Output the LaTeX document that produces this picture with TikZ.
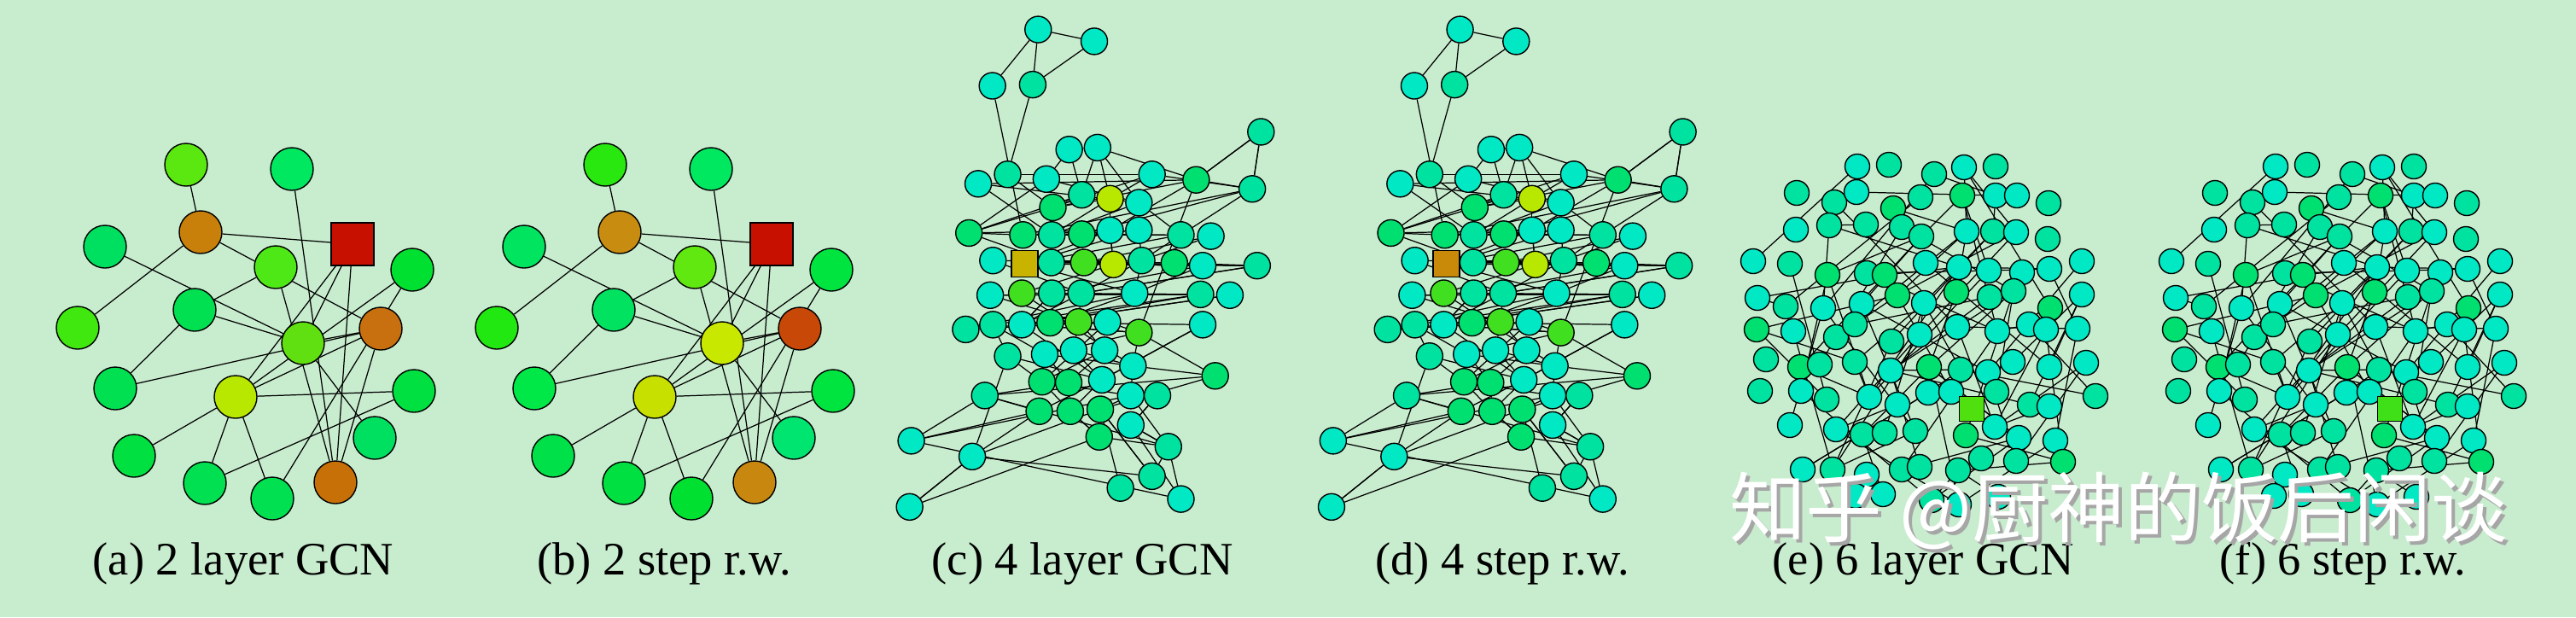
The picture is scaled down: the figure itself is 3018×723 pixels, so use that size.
\documentclass[tikz,border=0pt]{standalone}
\usepackage{fontspec}
\setmainfont{Liberation Serif}
\newfontfamily\cjk{Noto Sans CJK SC}
\definecolor{bgc}{HTML}{C8ECCE}
\definecolor{T}{HTML}{00E8C4}
\definecolor{M}{HTML}{00E2A0}
\definecolor{G}{HTML}{00E070}
\definecolor{L}{HTML}{40E020}
\definecolor{Y}{HTML}{B8E800}
\pgfdeclarelayer{bg}\pgfsetlayers{bg,main}
\begin{document}
\begin{tikzpicture}[x=0.01cm,y=-0.01cm,
  big/.style={circle,draw=black,line width=0.4pt,inner sep=0pt,minimum size=0.5cm},
  bigsq/.style={rectangle,draw=black,line width=0.4pt,inner sep=0pt,minimum size=0.5cm},
  mid/.style={circle,draw=black,line width=0.4pt,inner sep=0pt,minimum size=0.31cm},
  midsq/.style={rectangle,draw=black,line width=0.4pt,inner sep=0pt,minimum width=0.31cm,minimum height=0.31cm},
  sml/.style={circle,draw=black,line width=0.4pt,inner sep=0pt,minimum size=0.29cm},
  smlsq/.style={rectangle,draw=black,line width=0.4pt,inner sep=0pt,minimum size=0.29cm},
  edge/.style={line width=0.35pt,draw=black},
  captxt/.style={font=\fontsize{15.5}{17}\selectfont}]
\begin{pgfonlayer}{bg}
\fill[bgc] (0,0) rectangle (3018,723);
\end{pgfonlayer}
\useasboundingbox (0,0) rectangle (3018,723);

% ---------- panels (a) and (b)
\foreach \pre/\sh in {a/0,b/491}{
 \begin{scope}[xshift=\sh*0.01cm]
 \foreach \k/\x/\y/\ca/\cb in {1/218/193/{rgb,255:red,90;green,232;blue,16}/{rgb,255:red,40;green,232;blue,16},
   2/342/198/{rgb,255:red,0;green,232;blue,96}/{rgb,255:red,0;green,232;blue,96},
   3/235/272/{rgb,255:red,200;green,128;blue,10}/{rgb,255:red,200;green,140;blue,16},
   5/123/289/{rgb,255:red,0;green,224;blue,96}/{rgb,255:red,0;green,228;blue,96},
   6/323/313/{rgb,255:red,78;green,232;blue,23}/{rgb,255:red,96;green,232;blue,16},
   7/483/316/{rgb,255:red,0;green,224;blue,48}/{rgb,255:red,0;green,228;blue,64},
   8/228/363/{rgb,255:red,0;green,224;blue,80}/{rgb,255:red,0;green,226;blue,96},
   9/91/384/{rgb,255:red,64;green,232;blue,16}/{rgb,255:red,32;green,232;blue,16},
   10/446/385/{rgb,255:red,200;green,112;blue,16}/{rgb,255:red,200;green,72;blue,8},
   11/355/402/{rgb,255:red,96;green,224;blue,16}/{rgb,255:red,200;green,232;blue,0},
   12/135/455/{rgb,255:red,0;green,224;blue,80}/{rgb,255:red,0;green,232;blue,72},
   13/276/465/{rgb,255:red,184;green,232;blue,0}/{rgb,255:red,200;green,224;blue,0},
   14/485/458/{rgb,255:red,0;green,224;blue,64}/{rgb,255:red,0;green,228;blue,64},
   15/157/534/{rgb,255:red,0;green,224;blue,64}/{rgb,255:red,0;green,224;blue,72},
   16/439/513/{rgb,255:red,0;green,224;blue,96}/{rgb,255:red,0;green,228;blue,112},
   17/240/566/{rgb,255:red,0;green,224;blue,80}/{rgb,255:red,0;green,224;blue,64},
   18/319/584/{rgb,255:red,0;green,224;blue,80}/{rgb,255:red,0;green,224;blue,48},
   19/393/565/{rgb,255:red,200;green,112;blue,8}/{rgb,255:red,200;green,136;blue,16}}{
   \ifnum\sh=0 \node[big,fill={\ca}] (\pre\k) at (\x,\y) {};
   \else \node[big,fill={\cb}] (\pre\k) at (\x,\y) {};\fi
 }
 \node[bigsq,fill={rgb,255:red,200;green,16;blue,0}] (\pre4) at (413,286) {};
 \begin{pgfonlayer}{bg}
 \foreach \u/\v in {1/3,2/19,3/4,3/9,3/10,5/11,6/8,6/19,8/11,8/12,12/10,4/13,4/11,4/19,7/13,7/18,10/13,10/19,11/10,11/16,13/14,13/15,13/17,13/18,14/17}
   \draw[edge] (\pre\u) -- (\pre\v);
 \end{pgfonlayer}
 \end{scope}}
\node[captxt] (capa) at (285,660) {(a) 2 layer GCN};
\node[captxt] (capb) at (778,660) {(b) 2 step r.w.};

% ---------- panels (c) and (d)
\def\cnodes{1/338/75/T,2/441/105/T,3/254/218/T,4/328/215/M,5/747/335/M,6/395/380/T,7/447/375/T,8/282/443/M,9/228/467/T,10/353/455/T,11/547/443/T,12/628/457/G,13/731/480/M,14/418/495/M,15/365/527/G,16/470/505/Y,17/523/515/T,18/211/592/G,19/310/597/G,20/363/597/M,21/418/595/G,22/470/585/T,23/523/585/T,24/600/597/M,25/655/600/T,26/255/662/T,28/362/667/M,29/422/667/L,30/476/672/Y,31/528/662/M,32/588/668/G,33/640/675/T,34/740/675/M,35/250/750/T,36/308/745/L,37/363/745/M,38/417/745/M,39/515/745/T,40/636/748/M,41/690/750/T,42/205/837/M,43/255/825/M,44/308/825/T,45/360/820/G,46/412/818/L,47/465/818/T,48/523/845/L,49/640/825/T,50/282/905/M,51/350/900/T,52/403/890/T,53/460/890/T,54/512/930/T,55/345/970/G,56/394/972/G,57/455/965/T,58/663/955/G,59/240/1005/M,60/508/1005/T,61/557/1005/M,62/340/1045/G,63/397/1045/G,64/452/1040/G,65/508/1080/T,66/450/1110/G,67/577/1135/M,68/105/1120/T,69/217/1160/T,70/547/1210/M,71/489/1240/M,72/600/1268/T,73/102/1288/T}
\foreach \pre/\sh/\sqc in {c/10/{rgb,255:red,200;green,180;blue,0},d/14.94/{rgb,255:red,200;green,138;blue,8}}{
 \begin{scope}[shift={(\sh cm,0cm)},x=0.006378cm,y=-0.00461cm]
 \foreach \k/\x/\y/\c in \cnodes { \node[mid,fill=\c] (\pre\k) at (\x,\y) {}; }
 \node[midsq,fill={\sqc}] (\pre27) at (313,670) {};
 \begin{pgfonlayer}{bg}
 \foreach \u/\v in {1/2,1/3,1/4,2/4,3/19,4/8,5/12,5/13,13/24,12/22,11/16,16/7,6/14,7/17,9/20,18/28,30/22,30/34,26/38,27/28,28/31,29/21,35/46,39/27,48/58,48/12,42/47,68/59,73/69,69/50,67/60,70/64,72/65,71/64,36/54,44/57}
   \draw[edge] (\pre\u) -- (\pre\v);
 \pgfmathsetseed{7}
 \foreach \i in {1,...,73}{
   \foreach \rep in {1,2}{
    \pgfmathrandominteger{\r}{1}{8}
    \pgfmathtruncatemacro\j{\i+\r}
    \ifnum\j<74 \ifnum\i>4 \draw[edge] (\pre\i) -- (\pre\j);\fi\fi
 }}
 \end{pgfonlayer}
 \end{scope}}
\node[captxt] (capc) at (1268,660) {(c) 4 layer GCN};
\node[captxt] (capd) at (1760,660) {(d) 4 step r.w.};

% ---------- panels (e) and (f)
\pgfmathdeclarerandomlist{ecol}{{T}{T}{T}{M}{M}{M}{G}}
\foreach \pre/\cx/\sqc in {e/2255/{rgb,255:red,80;green,224;blue,16},f/2745/{rgb,255:red,64;green,224;blue,24}}{
 \pgfmathsetseed{11}
 \foreach \gi in {0,...,12}{\foreach \gj in {0,...,12}{
   \pgfmathrandominteger{\rx}{-11}{11}\pgfmathrandominteger{\ry}{-10}{10}
   \coordinate (\pre\gi-\gj) at ({\cx+(\gi-6)*38+\rx},{390+(\gj-6)*39+\ry});
 }}
 \begin{pgfonlayer}{bg}
 \foreach \gi in {0,...,12}{\foreach \gj in {0,...,12}{
   \pgfmathtruncatemacro\ins{((\gi-6)^2+(\gj-6)^2<=33)?1:0}
   \ifnum\ins=1
    \foreach \rep in {1,2}{
     \pgfmathrandominteger{\di}{-4}{4}\pgfmathrandominteger{\dj}{-4}{4}
     \pgfmathtruncatemacro\ti{\gi+\di}\pgfmathtruncatemacro\tj{\gj+\dj}
     \pgfmathtruncatemacro\ok{((\ti-6)^2+(\tj-6)^2<=33)&&(abs(\di)+abs(\dj)>0)?1:0}
     \ifnum\ok=1 \draw[edge] (\pre\gi-\gj) -- (\pre\ti-\tj);\fi
    }
   \fi
 }}
 \end{pgfonlayer}
 \foreach \gi in {0,...,12}{\foreach \gj in {0,...,12}{
   \pgfmathtruncatemacro\ins{((\gi-6)^2+(\gj-6)^2<=33)?1:0}
   \ifnum\ins=1
    \pgfmathrandomitem{\cc}{ecol}
    \node[sml,fill=\cc] (\pre n\gi-\gj) at (\pre\gi-\gj) {};
   \fi
 }}
 \node[smlsq,fill={\sqc}] (\pre sq) at (\cx+55,479) {};
}
\node[captxt] (cape) at (2253,660) {(e) 6 layer GCN};
\node[captxt] (capf) at (2745,660) {(f) 6 step r.w.};

% watermark
\node[font=\cjk\fontsize{25.5}{26}\selectfont,text=black!35] (wms) at (2486,602) {知乎 @厨神的饭后闲谈};
\node[font=\cjk\fontsize{25.5}{26}\selectfont,text=white] (wm) at (2482,598) {知乎 @厨神的饭后闲谈};
\end{tikzpicture}
\end{document}
